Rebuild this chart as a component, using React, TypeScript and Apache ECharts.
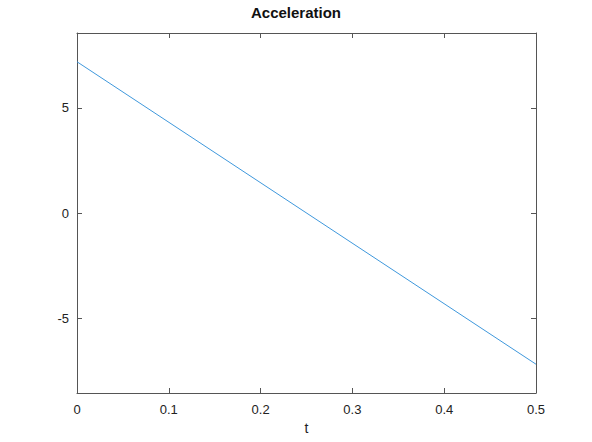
import React, { useEffect, useRef } from "react";
import * as echarts from "echarts";

const tValues = [0, 0.5];
const accelValues = [7.2, -7.2];
const yTicks = [-5, 0, 5];
const xMin = 0;
const xMax = 0.5;
const xStep = 0.1;
const yMin = -8.57;
const yMax = 8.57;
const titleText = "Acceleration";
const xLabel = "t";

export default function App() {
  const ref = useRef<HTMLDivElement>(null);
  useEffect(() => {
    if (!ref.current) return;
    const chart = echarts.init(ref.current, undefined, { renderer: "svg" });
    const axisColor = "#555";
    const font = "Liberation Sans, Arial, sans-serif";
    const tickCommon = { show: true, inside: true, length: 5, lineStyle: { color: axisColor, width: 1 } };
    const lineCommon = { show: true, onZero: false, lineStyle: { color: axisColor, width: 1 } };
    chart.setOption({
      animation: false,
      backgroundColor: "#fff",
      title: {
        text: titleText,
        left: "center",
        top: 0,
        textStyle: { fontFamily: font, fontSize: 15, fontWeight: "bold", color: "#111" },
      },
      grid: { left: 77, top: 33, right: 56, bottom: 49, containLabel: false },
      xAxis: [
        {
          type: "value",
          min: xMin,
          max: xMax,
          interval: xStep,
          position: "bottom",
          name: xLabel,
          nameLocation: "middle",
          nameGap: 28,
          nameTextStyle: { fontFamily: font, fontSize: 14, color: "#222" },
          axisLine: lineCommon,
          axisTick: tickCommon,
          axisLabel: { fontFamily: font, fontSize: 13, color: "#222", margin: 10 },
          splitLine: { show: false },
        },
        {
          type: "value",
          min: xMin,
          max: xMax,
          interval: xStep,
          position: "top",
          axisLine: lineCommon,
          axisTick: tickCommon,
          axisLabel: { show: false },
          splitLine: { show: false },
        },
      ],
      yAxis: [
        {
          type: "value",
          min: yMin,
          max: yMax,
          position: "left",
          axisLine: lineCommon,
          axisTick: { ...tickCommon, customValues: yTicks },
          axisLabel: { fontFamily: font, fontSize: 13, color: "#222", margin: 8, customValues: yTicks },
          splitLine: { show: false },
        },
        {
          type: "value",
          min: yMin,
          max: yMax,
          position: "right",
          axisLine: lineCommon,
          axisTick: { ...tickCommon, customValues: yTicks },
          axisLabel: { show: false, customValues: yTicks },
          splitLine: { show: false },
        },
      ],
      series: [
        {
          type: "line",
          xAxisIndex: 0,
          yAxisIndex: 0,
          data: tValues.map((t, i) => [t, accelValues[i]]),
          showSymbol: false,
          lineStyle: { color: "#3f98dc", width: 1 },
        },
      ],
    });
    return () => chart.dispose();
  }, []);
  return <div ref={ref} style={{ position: "fixed", left: 0, top: 0, width: 592, height: 442 }} />;
}
